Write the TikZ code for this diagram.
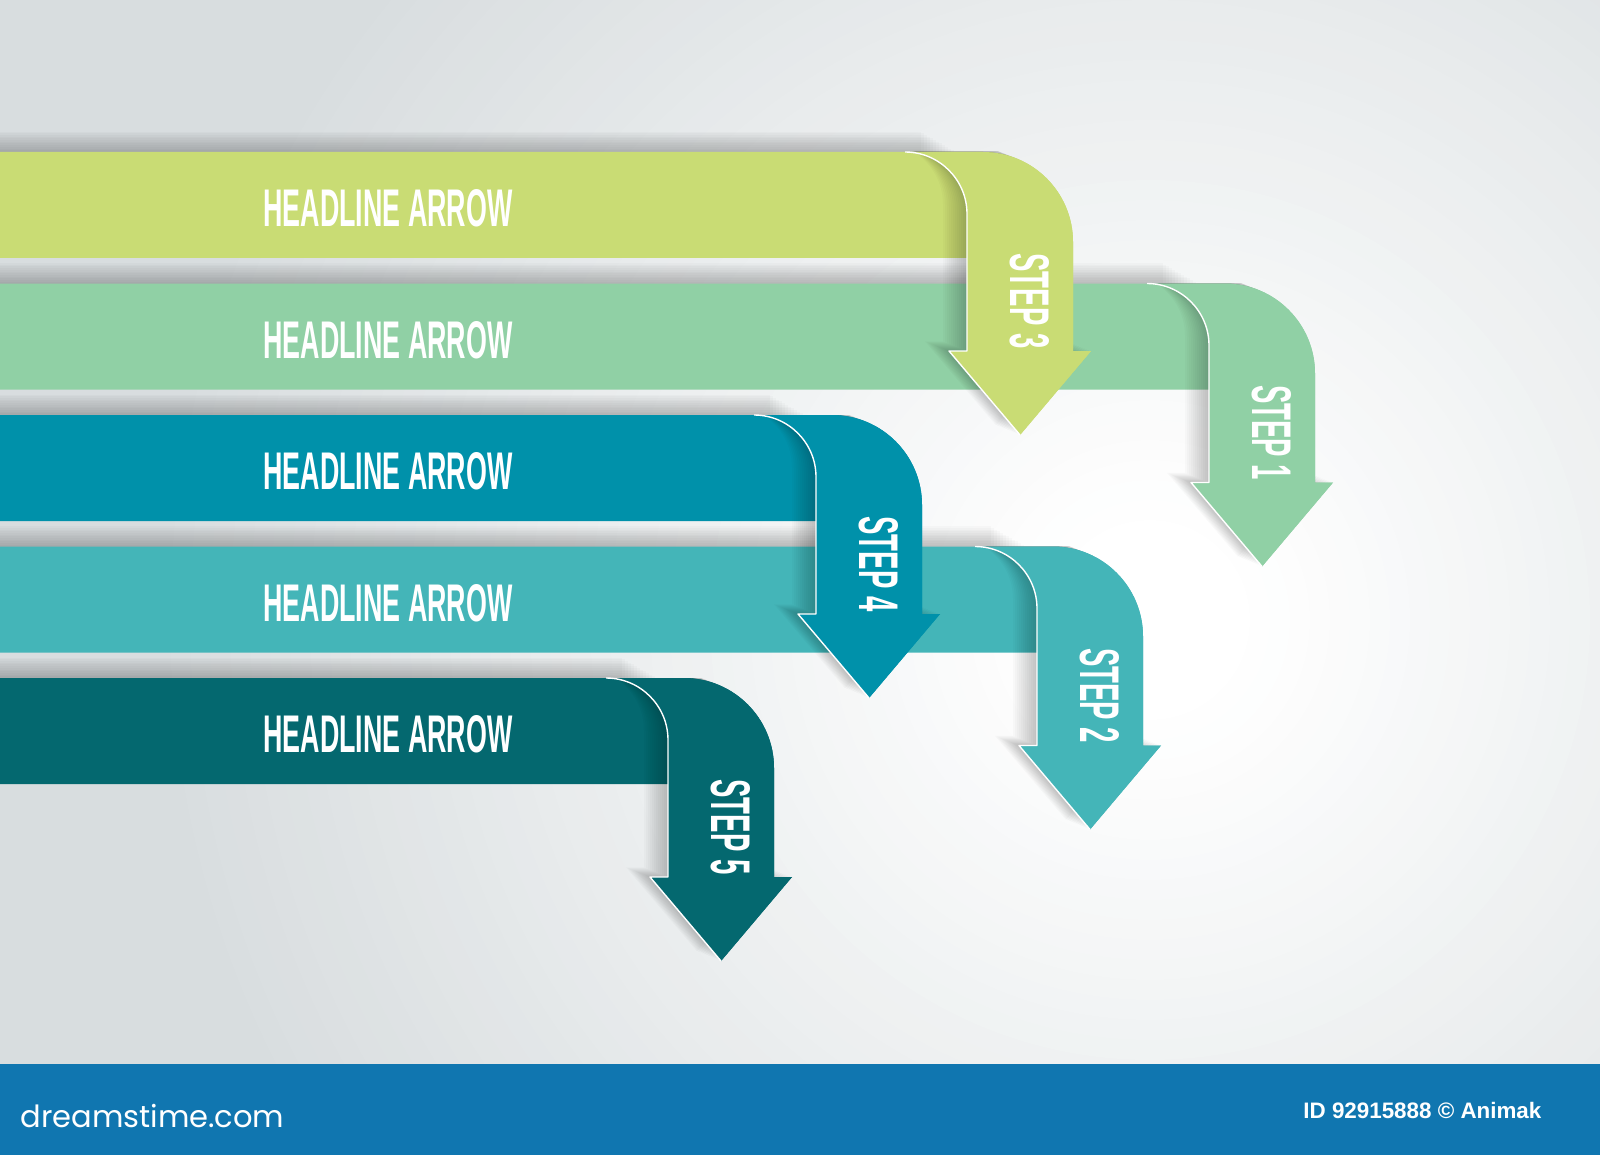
\documentclass[tikz,border=0pt]{standalone}
\usepackage{graphicx}
\usepackage{fontspec}
\setmainfont{Liberation Sans}
\newfontfamily\popfont{Poppins}

\definecolor{bggray}{RGB}{216,221,223}
\definecolor{cone}{RGB}{201,220,116}
\definecolor{ctwo}{RGB}{144,208,165}
\definecolor{cthree}{RGB}{0,145,170}
\definecolor{cfour}{RGB}{68,181,184}
\definecolor{cfive}{RGB}{4,104,111}
\definecolor{barblue}{RGB}{16,118,176}

\tikzset{
  bandp/.style 2 args={insert path={(-10,#1) -- ({#2+16},#1) .. controls ({#2+65.7},#1) and ({#2+106},{#1+40.3}) .. ({#2+106},{#1+90}) -- ({#2+106},{#1+199}) -- ({#2+124},{#1+199}) -- ({#2+53},{#1+283}) -- ({#2-18},{#1+199}) -- (#2,{#1+199}) -- (#2,{#1+106}) -- (-10,{#1+106}) -- cycle}},
  shaftp/.style 2 args={insert path={({#2-62},#1) .. controls ({#2-27.8},#1) and (#2,{#1+27.8}) .. (#2,{#1+62}) -- (#2,{#1+199}) -- ({#2-18},{#1+199}) -- ({#2+53},{#1+283}) -- ({#2+124},{#1+199}) -- ({#2+106},{#1+199}) -- ({#2+106},{#1+90}) .. controls ({#2+106},{#1+40.3}) and ({#2+65.7},#1) .. ({#2+16},#1) -- cycle}},
  foldp/.style 2 args={insert path={({#2-62},#1) .. controls ({#2-27.8},#1) and (#2,{#1+27.8}) .. (#2,{#1+62}) -- (#2,{#1+199}) -- ({#2-18},{#1+199}) -- ({#2+53},{#1+283})}},
  shade/.style={black, opacity=0.02},
  headtxt/.style={white, inner sep=0pt, font=\bfseries},
  steptxt/.style={white, inner sep=0pt, font=\bfseries, rotate=-90},
  bartxt/.style={white, inner sep=0pt, anchor=base west},
}

% #1 top, #2 shaft left x, #3 colour, #4 step number
\newcommand\drawband[4]{%
  % soft shadow above the horizontal strip
  \foreach \i in {1,...,12}{\fill[shade] (-10,{#1-1.7*\i}) rectangle ({#2-10-3*\i},{#1+5});}
  \fill[#3,bandp={#1}{#2}];
  % shadow cast by the folded-down part
  \begin{scope}
    \clip (-10,#1) rectangle (1700,1100);
    \foreach \i in {1,...,12}{\fill[shade,shift={({-2*\i},{-0.8*\i})},shaftp={#1}{#2}];}
  \end{scope}
  \fill[#3,shaftp={#1}{#2}];
  \draw[white,line width=0.7pt,line join=round,foldp={#1}{#2}];
  \node[headtxt] (head#4) at (388,{#1+56.5}) {\resizebox{124.5pt}{18.5pt}{HEADLINE ARROW}};
  \node[steptxt] (step#4) at ({#2+63},{#1+149}) {\resizebox{47.5pt}{19.5pt}{STEP #4}};
}

\begin{document}
\begin{tikzpicture}[x=0.5pt,y=-0.5pt]
\useasboundingbox (0,0) rectangle (1600,1155);
% background: soft radial glow built from rings
\fill[bggray] (0,0) rectangle (1600,1064);
\begin{scope}
  \clip (0,0) rectangle (1600,1064);
  \foreach \r in {1100,1080,...,100}{
    \pgfmathtruncatemacro\pp{min(100,max(0,(\r-100)/9))}
    \fill[bggray!\pp!white] (1150,620) circle (\r);
  }
\end{scope}
% bands (bottom layer first)
\drawband{678}{668}{cfive}{5}
\drawband{546.5}{1037}{cfour}{2}
\drawband{415}{816}{cthree}{4}
\drawband{283.5}{1209}{ctwo}{1}
\drawband{152}{967}{cone}{3}
% bottom bar
\fill[barblue] (0,1064) rectangle (1600,1155);
\node[bartxt] (site) at (20,1127) {\resizebox{132pt}{!}{\popfont dreamstime.com}};
\node[bartxt] (imgid) at (1303,1118) {\resizebox{119pt}{!}{\bfseries ID 92915888 © Animak}};
\end{tikzpicture}
\end{document}
